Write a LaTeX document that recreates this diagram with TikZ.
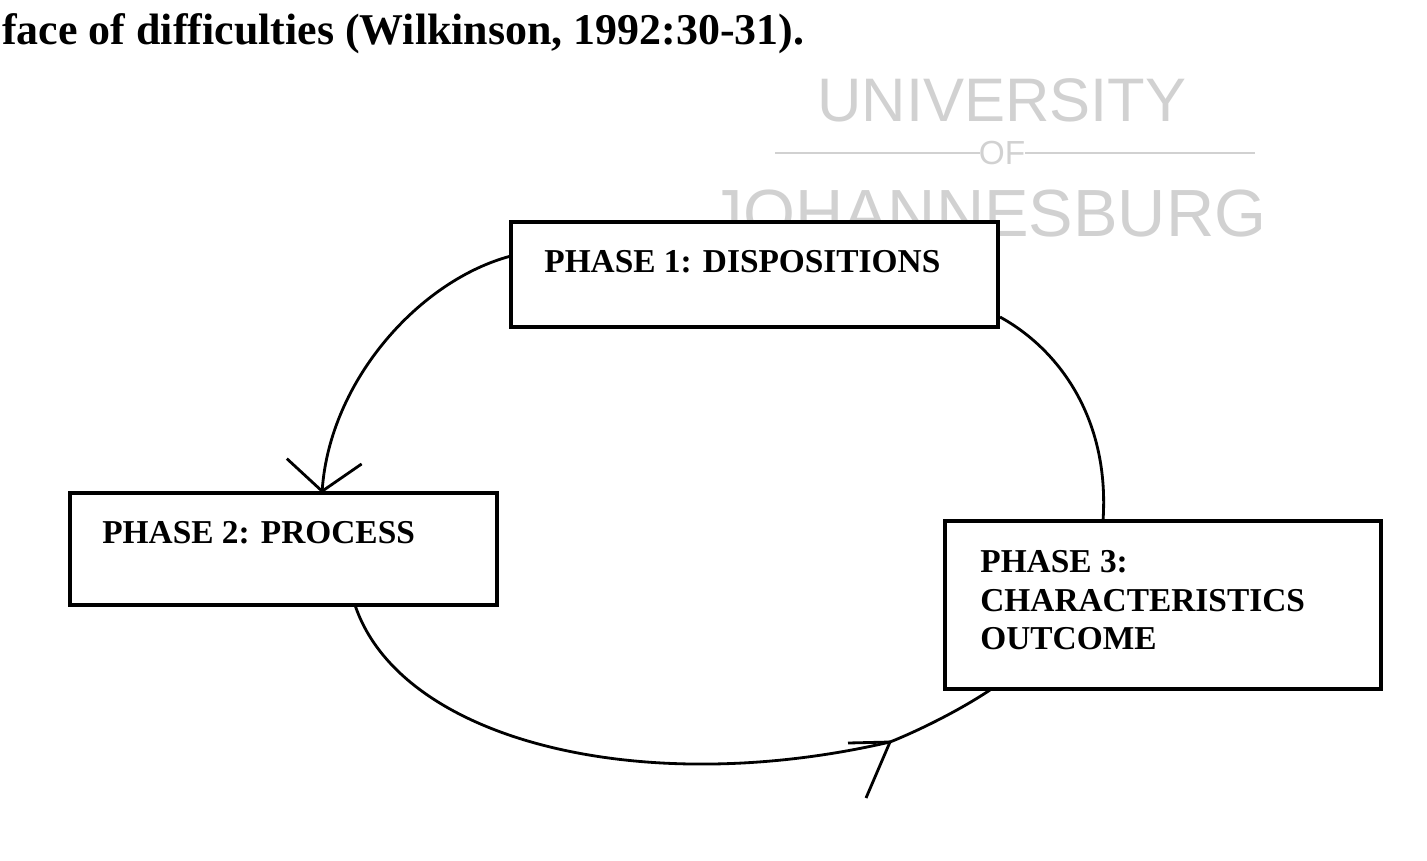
\documentclass[tikz,border=0pt]{standalone}
\usepackage{fontspec}
\setmainfont{Liberation Serif}
\newfontfamily\wmfont{Liberation Sans}
\usetikzlibrary{arrows.meta}
\begin{document}
\begin{tikzpicture}[x=0.02cm,y=-0.02cm,
  box/.style={draw,fill=white,line width=1.8pt},
  lbl/.style={anchor=west,align=left,font=\bfseries\fontsize{19}{22}\selectfont,inner sep=0},
  curve/.style={line width=1.6pt},
  chev/.style={-{Straight Barb[length=0.6cm,width=1.5cm,line width=1.6pt]}}]
\useasboundingbox (0,0) rectangle (1427,860);
% watermark
\node[text=black!18,font=\wmfont\fontsize{35}{35}\selectfont,anchor=center] (wm1) at (1002,100) {UNIVERSITY};
\node[text=black!18,font=\wmfont\fontsize{19}{19}\selectfont] (wm2) at (1002,153) {OF};
\draw[black!18,line width=1.5pt] (775,153) -- (980,153) (1025,153) -- (1255,153);
\node[text=black!18,font=\wmfont\fontsize{38}{38}\selectfont] (wm3) at (988,214) {JOHANNESBURG};
% heading
\node[anchor=west,inner sep=0,font=\bfseries\fontsize{25}{25}\selectfont] (head) at (2,34) {face of difficulties (Wilkinson, 1992:30-31).};
% boxes
\draw[box] (511,222) rectangle (998,327);
\draw[box] (70,493) rectangle (497,605);
\draw[box] (945,521) rectangle (1381,689);
\coordinate (p1l) at (511,256); \coordinate (p1r) at (1000,317);
\coordinate (p2t) at (322,493); \coordinate (p2b) at (355,605);
\coordinate (p3t) at (1103,521); \coordinate (p3b) at (990,690);
\coordinate (ah) at (890,742);
\node[lbl] (t1) at (544,262) {PHASE 1: DISPOSITIONS};
\node[lbl] (t2) at (102,533) {PHASE 2: PROCESS};
\node[lbl,anchor=north west] (t3) at (980,550) {PHASE 3:\\CHARACTERISTICS\\OUTCOME};
% curves
\draw[curve,chev] (p1l) .. controls (420,280) and (330,380) .. (p2t);
\draw[curve] (p1r) .. controls (1060,350) and (1110,420) .. (p3t);
\draw[curve] (p3b) .. controls (960,710) and (920,730) .. (ah);
\draw[curve] (p2b) .. controls (400,740) and (640,800) .. (ah);
\draw[curve] (848,743) -- (ah) -- (866,798);
\end{tikzpicture}
\end{document}
